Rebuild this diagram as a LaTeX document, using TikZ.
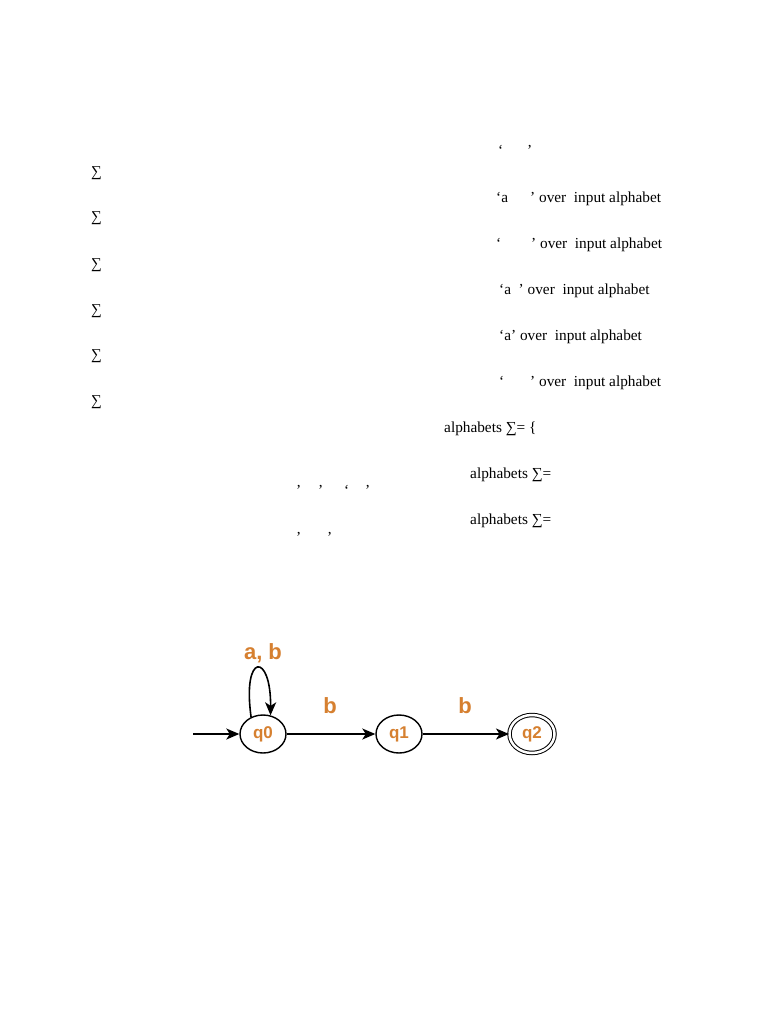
\documentclass[tikz,border=0pt]{standalone}
\usepackage{fontspec}
\setmainfont{Liberation Serif}
\newfontfamily\lblfont{Liberation Sans}
\usetikzlibrary{arrows.meta,shapes.geometric}
\definecolor{stateorange}{RGB}{214,128,48}
\tikzset{
  txt/.style={anchor=base west, inner sep=0pt, font=\fontsize{15.3}{17}\selectfont},
  sig/.style={anchor=base west, inner sep=0pt, font=\fontsize{15}{17}\selectfont},
  state/.style={draw=black, line width=1.4pt, ellipse, minimum width=46pt, minimum height=38pt, inner sep=0pt,
    font=\lblfont\bfseries\fontsize{17}{19}\selectfont, text=stateorange},
  elbl/.style={font=\lblfont\bfseries\fontsize{22}{24}\selectfont, text=stateorange, inner sep=0pt},
  edge/.style={draw=black, line width=1.6pt, -{Stealth[length=13pt,width=11pt,inset=3.5pt]}}
}
\begin{document}
\begin{tikzpicture}[x=1pt,y=-1pt]
\useasboundingbox (0,0) rectangle (768,1024);
\fill[white] (0,0) rectangle (768,1024);
% line 1
\node[txt] (l1a) at (498,156) {‘};
\node[txt] (l1b) at (527,156) {’};
% sigmas
\node[sig] (s1) at (91,177) {∑};
\node[sig] (s2) at (91,222) {∑};
\node[sig] (s3) at (91,268) {∑};
\node[sig] (s4) at (91,314) {∑};
\node[sig] (s5) at (91,359) {∑};
\node[sig] (s6) at (91,405) {∑};
% line 2
\node[txt] (l2a) at (496,203) {‘a};
\node[txt] (l2b) at (530,203) {’ over\ \ input alphabet};
% line 3
\node[txt] (l3a) at (496,248) {‘};
\node[txt] (l3b) at (531,248) {’ over\ \ input alphabet};
% line 4
\node[txt] (l4) at (499,294) {‘a\ \ ’ over\ \ input alphabet};
% line 5
\node[txt] (l5) at (499,340) {‘a’ over\ \ input alphabet};
% line 6
\node[txt] (l6a) at (499,386) {‘};
\node[txt] (l6b) at (530,386) {’ over\ \ input alphabet};
% line 7
\node[txt] (l7) at (444,432) {alphabets ∑= \{};
% line 8
\node[txt] (l8) at (470,478) {alphabets ∑=};
\node[txt] (q8a) at (296,495) {’};
\node[txt] (q8b) at (318,495) {’};
\node[txt] (q8c) at (344,495) {‘};
\node[txt] (q8d) at (365,495) {’};
% line 9
\node[txt] (l9) at (470,524) {alphabets ∑=};
\node[txt] (q9a) at (296,542) {’};
\node[txt] (q9b) at (327,542) {’};
% automaton
\coordinate (start) at (193,734);
\node[state] (q0) at (263,734) {q0};
\node[state] (q1) at (399,734) {q1};
\node[state, double, double distance=2.5pt, line width=1pt, minimum width=45pt, minimum height=38pt] (q2) at (532,734) {q2};
\draw[edge] (start) -- (q0);
\draw[edge] (q0) -- (q1);
\draw[edge] (q1) -- (q2);
\draw[edge] (q0.125) .. controls (242,652) and (271,652) .. (q0.68);
\node[elbl] (lab0) at (263,653) {a, b};
\node[elbl] (lab1) at (330,706) {b};
\node[elbl] (lab2) at (465,706) {b};
\end{tikzpicture}
\end{document}
